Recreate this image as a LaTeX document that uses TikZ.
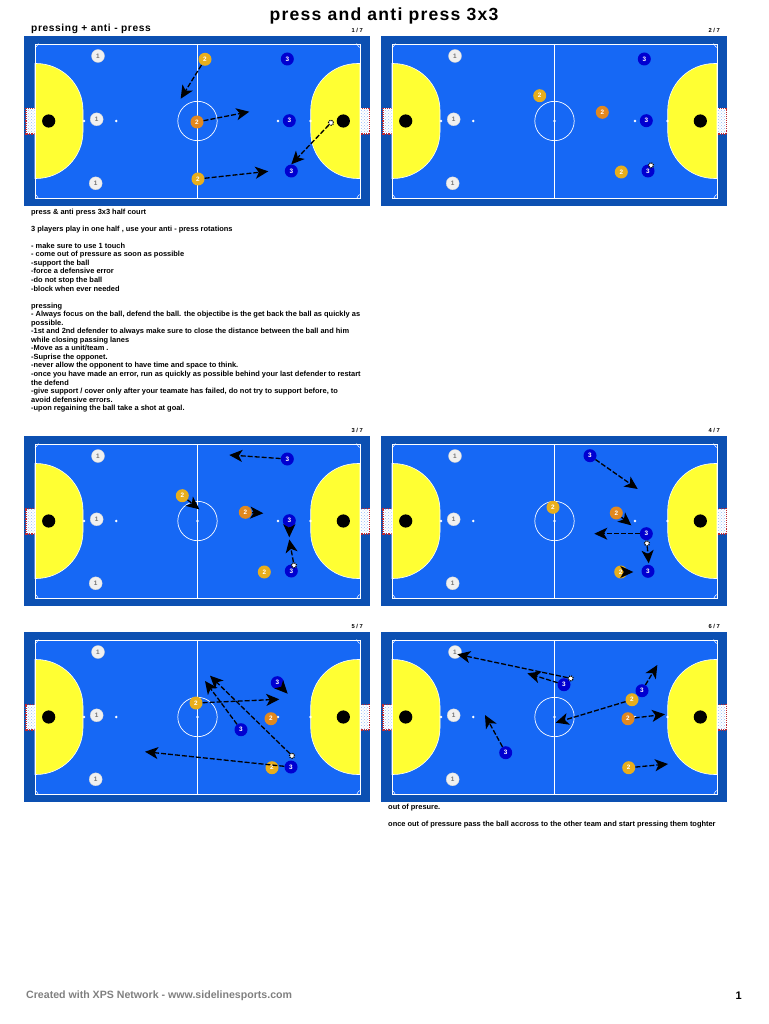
\documentclass[tikz,border=0pt]{standalone}
\usepackage{fontspec}
\setmainfont{Liberation Sans}
\usetikzlibrary{arrows.meta,patterns}
\definecolor{courtblue}{RGB}{22,104,245}
\definecolor{edgeblue}{RGB}{12,80,178}
\definecolor{areayellow}{RGB}{255,255,51}
\definecolor{teamgold}{RGB}{232,174,28}
\definecolor{teamorange}{RGB}{226,136,30}
\definecolor{teamblue}{RGB}{0,0,208}
\definecolor{goalred}{RGB}{190,40,50}
\newcommand{\bodyfont}{\fontsize{7.44}{8.55}\bfseries\selectfont}

\begin{document}
\begin{tikzpicture}[x=1pt,y=-1pt,
		line/.style={draw=white, line width=0.9pt},
		goal/.style={fill=white},
		net/.style={pattern=crosshatch dots, pattern color=courtblue!45},
		rim/.style={draw=goalred, densely dotted, line width=1.1pt},
		spot/.style={circle, fill=white, inner sep=0pt, minimum size=2.8pt},
		player/.style={circle, inner sep=0pt, minimum size=13pt, text=white,
			font=\fontsize{6.4}{7}\bfseries\selectfont},
		one/.style={player, fill=white!94!black, draw=white!82!black, line width=0.3pt, text=black!55},
		gold/.style={player, fill=teamgold},
		orange/.style={player, fill=teamorange},
		blue/.style={player, fill=teamblue},
		ball/.style={circle, draw=black, fill=white, line width=1.2pt, inner sep=0pt,
			minimum size=5pt, densely dotted},
		run/.style={-{Stealth[length=13pt,width=12pt,inset=3.5pt]}, dash pattern=on 5pt off 2pt,
			line width=1.3pt, black},
		tag/.style={anchor=east, inner sep=0pt, font=\fontsize{5.8}{6}\bfseries\selectfont},
		note/.style={anchor=north west, inner sep=0pt, align=left, font=\bodyfont},
		court/.pic={
			\fill[edgeblue] (24,36) rectangle (370,206);
			\fill[courtblue] (35,44) rectangle (360,198);
			\fill[goal] (26,108.5) rectangle (35,134);
			\fill[net] (27,109.5) rectangle (35,133);
			\draw[rim] (35,108.5) -- (26,108.5) -- (26,134) -- (35,134);
			\fill[goal] (360,108.5) rectangle (369.5,134);
			\fill[net] (360,109.5) rectangle (368.5,133);
			\draw[rim] (360,108.5) -- (369.5,108.5) -- (369.5,134) -- (360,134);
			\filldraw[fill=areayellow, draw=white, line width=0.6pt] (35,63.5) [rounded corners=47pt] -- (83,63.5) -- (83,178.5) [sharp corners] -- (35,178.5) -- cycle;
			\filldraw[fill=areayellow, draw=white, line width=0.6pt] (360,63.5) [rounded corners=47pt] -- (310.7,63.5) -- (310.7,178.5) [sharp corners] -- (360,178.5) -- cycle;
			\draw[line] (35,44) rectangle (360,198);
			\draw[line] (197.4,44) -- (197.4,198);
			\draw[line, line width=0.7pt] (197.5,121) circle[radius=19.7pt];
			\draw[line, line width=0.5pt] (35,47.5) to[out=0,in=90] (38.5,44) (360,47.5) to[out=180,in=90] (356.5,44)
				(35,194.5) to[out=0,in=-90] (38.5,198) (360,194.5) to[out=180,in=-90] (356.5,198);
			\fill[black] (48.7,121) circle[radius=6.6pt];
			\fill[black] (343.3,121) circle[radius=6.6pt];
			\foreach \x in {84,116.3,197.5,278,310.5}
				\node[spot] (s\x) at (\x,121) {};
			\node[one] (w1) at (98,56) {1};
			\node[one] (w2) at (96.7,119.3) {1};
			\node[one] (w3) at (95.7,183.3) {1};
		}
	]
	\useasboundingbox (0,0) rectangle (768,1024);

	\node[anchor=center, inner sep=0pt, font=\fontsize{17.6}{20}\bfseries\selectfont] (title) at (384,15.5) {\addfontfeatures{LetterSpace=7}press and anti press 3x3};
	\node[anchor=west, inner sep=0pt, font=\fontsize{10.2}{12}\bfseries\selectfont] (head) at (31,28.8) {\addfontfeatures{LetterSpace=6}pressing + anti - press};

	% 1
	\begin{scope}[name prefix=a-]
		\pic {court};
		\node[tag] (num) at (363,30) {1 / 7};
		\node[gold] (g1) at (205,59.3) {2};
		\node[orange] (g2) at (197,122) {2};
		\node[gold] (g3) at (198,179) {2};
		\node[blue] (b1) at (287.3,59) {3};
		\node[blue] (b2) at (289.3,120.7) {3};
		\node[blue] (b3) at (291.3,171) {3};
		\node[ball] (k) at (331,122.7) {};
		\coordinate (t1) at (180.7,98.7);
		\coordinate (t2) at (249.3,111.7);
		\coordinate (t3) at (268.3,171.3);
		\draw[run] (g1) -- (t1);
		\draw[run] (g2) -- (t2);
		\draw[run] (g3) -- (t3);
		\draw[run] (k) -- (b3.north);
	\end{scope}

	% 2
	\begin{scope}[shift={(357,0)}, name prefix=b-]
		\pic {court};
		\node[tag] (num) at (363,30) {2 / 7};
		\node[gold] (g1) at (182.7,95.7) {2};
		\node[orange] (g2) at (245.3,112.3) {2};
		\node[gold] (g3) at (264.3,172) {2};
		\node[blue] (b1) at (287.3,59) {3};
		\node[blue] (b2) at (289.3,120.7) {3};
		\node[blue] (b3) at (291,171) {3};
		\node[ball] (k) at (294,165.3) {};
	\end{scope}

	% 3
	\begin{scope}[shift={(0,400)}, name prefix=c-]
		\pic {court};
		\node[tag] (num) at (363,30) {3 / 7};
		\node[gold] (g1) at (182.3,95.7) {2};
		\node[orange] (g2) at (245.3,112.3) {2};
		\node[gold] (g3) at (264.3,172) {2};
		\node[blue] (b1) at (287.3,59) {3};
		\node[blue] (b2) at (289.3,120.7) {3};
		\node[blue] (b3) at (291.3,171) {3};
		\node[ball] (k) at (294,165.3) {};
		\coordinate (t1) at (229.3,55);
		\coordinate (t2) at (199.3,109.3);
		\coordinate (t3) at (263.3,113.3);
		\coordinate (t4) at (289.3,137.3);
		\coordinate (t5) at (289.3,139.5);
		\draw[run] (b1) -- (t1);
		\draw[run] (g1) -- (t2);
		\draw[run] (g2) -- (t3);
		\draw[run] (b2) -- (t4);
		\draw[run] (k) -- (t5);
	\end{scope}

	% 4
	\begin{scope}[shift={(357,400)}, name prefix=d-]
		\pic {court};
		\node[tag] (num) at (363,30) {4 / 7};
		\node[gold] (g1) at (196,107.3) {2};
		\node[orange] (g2) at (259.3,113) {2};
		\node[gold] (g3) at (263.7,172) {2};
		\node[blue] (b1) at (233,55.7) {3};
		\node[blue] (b2) at (289.3,133.7) {3};
		\node[blue] (b3) at (291,171.3) {3};
		\node[ball] (k) at (290,143.3) {};
		\coordinate (t1) at (280.7,89);
		\coordinate (t2) at (274.3,125.3);
		\coordinate (t3) at (237.3,133.7);
		\coordinate (t4) at (291.7,163.3);
		\coordinate (t5) at (276.3,172);
		\draw[run] (b1) -- (t1);
		\draw[run] (g2) -- (t2);
		\draw[run] (b2) -- (t3);
		\draw[run] (k) -- (t4);
		\draw[run] (g3) -- (t5);
	\end{scope}

	% 5
	\begin{scope}[shift={(0,596)}, name prefix=e-]
		\pic {court};
		\node[tag] (num) at (363,30) {5 / 7};
		\node[gold] (g1) at (196,107) {2};
		\node[orange] (g2) at (271,122.7) {2};
		\node[gold] (g3) at (272,171.7) {2};
		\node[blue] (b1) at (277.3,86.7) {3};
		\node[blue] (b2) at (241,133.7) {3};
		\node[blue] (b3) at (291,171) {3};
		\node[ball] (k) at (292,159.7) {};
		\coordinate (t1) at (279.3,103.3);
		\coordinate (t2) at (287.7,97.7);
		\coordinate (t3) at (205,85);
		\coordinate (t4) at (210,79.7);
		\coordinate (t5) at (145,155.7);
		\draw[run] (g1) -- (t1);
		\draw[run] (b1) -- (t2);
		\draw[run] (b2) -- (t3);
		\draw[run] (k) -- (t4);
		\draw[run] (b3) -- (t5);
	\end{scope}

	% 6
	\begin{scope}[shift={(357,596)}, name prefix=f-]
		\pic {court};
		\node[tag] (num) at (363,30) {6 / 7};
		\node[gold] (g1) at (275,103.7) {2};
		\node[orange] (g2) at (271,122.7) {2};
		\node[gold] (g3) at (271.7,171.7) {2};
		\node[blue] (b1) at (207,88.7) {3};
		\node[blue] (b2) at (285,94.7) {3};
		\node[blue] (b3) at (148.7,156.7) {3};
		\node[ball] (k) at (213.7,82.3) {};
		\coordinate (t1) at (100.3,58.3);
		\coordinate (t2) at (170.3,77.3);
		\coordinate (t3) at (300.3,69);
		\coordinate (t4) at (198.7,126.7);
		\coordinate (t5) at (308,118.3);
		\coordinate (t6) at (311,168);
		\coordinate (t7) at (128,119);
		\draw[run] (k) -- (t1);
		\draw[run] (b1) -- (t2);
		\draw[run] (b2) -- (t3);
		\draw[run] (g1) -- (t4);
		\draw[run] (g2) -- (t5);
		\draw[run] (g3) -- (t6);
		\draw[run] (b3) -- (t7);
	\end{scope}

	\node[note] (plan) at (31,208.5) {press \& anti press 3x3 half court\\
		\mbox{}\\
		3 players play in one half , use your anti - press rotations\\
		\mbox{}\\
		- make sure to use 1 touch\\
		- come out of pressure as soon as possible\\
		-support the ball\\
		-force a defensive error\\
		-do not stop the ball\\
		-block when ever needed\\
		\mbox{}\\
		pressing\\
		- Always focus on the ball, defend the ball. the objectibe is the get back the ball as quickly as\\
		possible.\\
		-1st and 2nd defender to always make sure to close the distance between the ball and him\\
		while closing passing lanes\\
		-Move as a unit/team .\\
		-Suprise the opponet.\\
		-never allow the opponent to have time and space to think.\\
		-once you have made an error, run as quickly as possible behind your last defender to restart\\
		the defend\\
		-give support / cover only after your teamate has failed, do not try to support before, to\\
		avoid defensive errors.\\
		-upon regaining the ball take a shot at goal.};
	\node[note] (outro) at (388,803.5) {out of presure.\\
		\mbox{}\\
		once out of pressure pass the ball accross to the other team and start pressing them toghter};

	\node[anchor=west, inner sep=0pt, text=black!50, font=\fontsize{10.6}{12}\bfseries\selectfont] (credit) at (26,995.5) {Created with XPS Network - www.sidelinesports.com};
	\node[anchor=east, inner sep=0pt, font=\fontsize{11}{12}\bfseries\selectfont] (page) at (742,995.5) {1};
\end{tikzpicture}
\end{document}
